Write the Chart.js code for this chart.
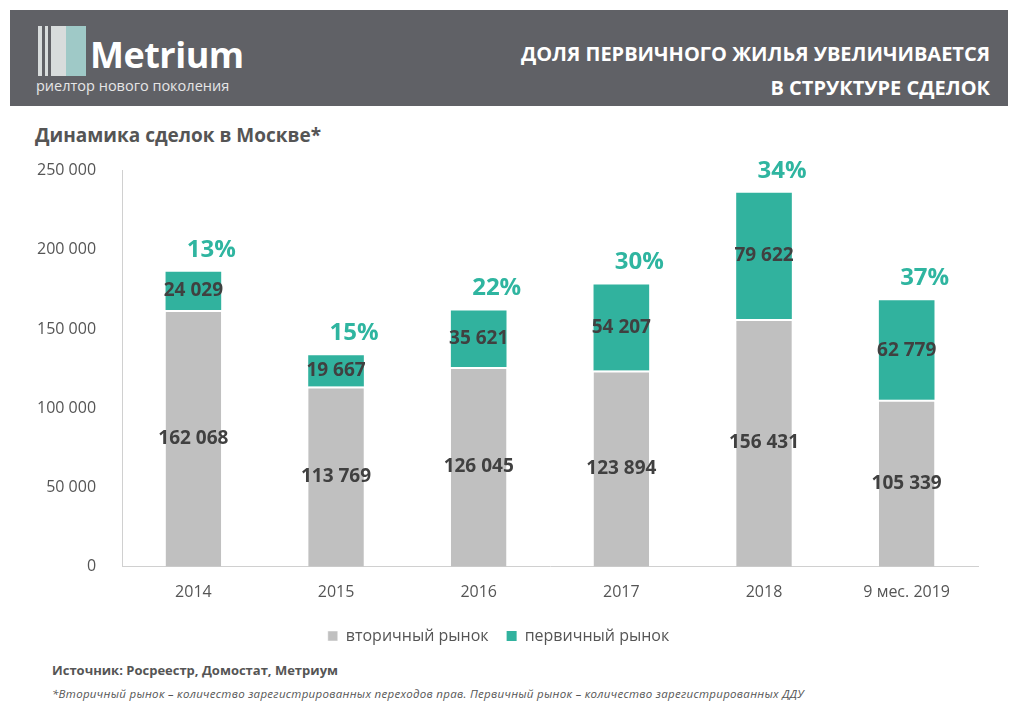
<!DOCTYPE html>
<html><head><meta charset="utf-8">
<script src="https://cdn.jsdelivr.net/npm/chart.js@4/dist/chart.umd.min.js"></script>
<style>
body{margin:0;width:1035px;height:709px;background:#fff;font-family:"Open Sans",sans-serif;position:relative;overflow:hidden}
#hdr{position:absolute;left:10px;top:10px;width:998px;height:96px;background:#606166}
#logo{position:absolute;left:28px;top:16px;color:#fff;font:bold 36px "Open Sans",sans-serif;letter-spacing:-0.5px}
#logo .bars{display:inline-block;width:48px;height:50px;vertical-align:-8px;margin-right:4px;background:linear-gradient(90deg,#d8dcdc 0 4px,transparent 4px 7px,#d8dcdc 7px 10px,transparent 10px 13px,#d8dcdc 13px 28px,#9fc9c7 28px 48px)}
#sub{position:absolute;left:26px;top:66px;color:#e6e6e6;font-size:14.5px}
#ttl{position:absolute;right:18px;top:27px;color:#fff;font:bold 20px "Open Sans",sans-serif;text-align:right;line-height:34px}
#st{position:absolute;left:35px;top:122px;color:#555;font:bold 19px "Open Sans",sans-serif}
#wrap{position:absolute;left:0;top:143px;width:998px;height:511px}
#src{position:absolute;left:52px;top:661px;color:#555;font:bold 13px "Open Sans",sans-serif}
#note{position:absolute;left:52px;top:686px;color:#555;font:italic 11.5px "Open Sans",sans-serif;letter-spacing:0.3px}
</style></head><body>
<div id="hdr"><div id="logo"><span class="bars"></span>Metrium</div><div id="sub">риелтор нового поколения</div>
<div id="ttl">ДОЛЯ ПЕРВИЧНОГО ЖИЛЬЯ УВЕЛИЧИВАЕТСЯ<br>В СТРУКТУРЕ СДЕЛОК</div></div>
<div id="st">Динамика сделок в Москве*</div>
<div id="wrap"><canvas id="c"></canvas></div>
<div id="src">Источник: Росреестр, Домостат, Метриум</div>
<div id="note">*Вторичный рынок – количество зарегистрированных переходов прав. Первичный рынок – количество зарегистрированных ДДУ</div>
<script>
const categories = ['2014','2015','2016','2017','2018','9 мес. 2019'];
const secondary = [162068,113769,126045,123894,156431,105339];
const primary = [24029,19667,35621,54207,79622,62779];
const shares = ['13%','15%','22%','30%','34%','37%'];
const fmt = v => String(v).replace(/\B(?=(\d{3})+(?!\d))/g,' ');

const labelPlugin = {
  id:'labels',
  afterDatasetsDraw(chart){
    const ctx = chart.ctx;
    ctx.save();
    ctx.textAlign='center';ctx.textBaseline='middle';
    chart.data.datasets.forEach((ds,di)=>{
      chart.getDatasetMeta(di).data.forEach((bar,i)=>{
        const mid=(bar.y+bar.base)/2;
        ctx.fillStyle='#404040';ctx.font='bold 19px "Open Sans"';
        ctx.fillText(fmt(ds.data[i]),bar.x,mid);
        if(di==1){
          ctx.fillStyle='#2fb5a0';ctx.font='bold 24px "Open Sans"';
          ctx.fillText(shares[i],bar.x+18,bar.y-22);
        }
      });
    });
    ctx.restore();
  }
};

new Chart(document.getElementById('c'),{
  type:'bar',
  data:{labels:categories,datasets:[
    {label:'вторичный рынок',data:secondary,backgroundColor:'#c0c0c0',borderColor:'#fff',borderWidth:{top:2},borderSkipped:false},
    {label:'первичный рынок',data:primary,backgroundColor:'#31b29e',borderColor:'#fff',borderWidth:0}
  ]},
  options:{responsive:true,maintainAspectRatio:false,animation:false,
    layout:{padding:{left:19,right:20,top:5,bottom:0}},
    datasets:{bar:{barPercentage:0.39,categoryPercentage:1}},
    scales:{
      x:{stacked:true,grid:{display:false},border:{color:'#d0d0d0'},ticks:{color:'#555',font:{size:16,family:'Open Sans'},padding:8}},
      y:{stacked:true,min:0,max:250000,grid:{display:false},border:{color:'#d0d0d0'},
        ticks:{stepSize:50000,color:'#555',font:{size:16,family:'Open Sans'},padding:18,callback:v=>fmt(v)}}
    },
    plugins:{legend:{position:'bottom',labels:{boxWidth:10,boxHeight:10,color:'#555',font:{size:16,family:'Open Sans'},padding:18}},tooltip:{enabled:false}}
  },
  plugins:[labelPlugin]
});
</script></body></html>
